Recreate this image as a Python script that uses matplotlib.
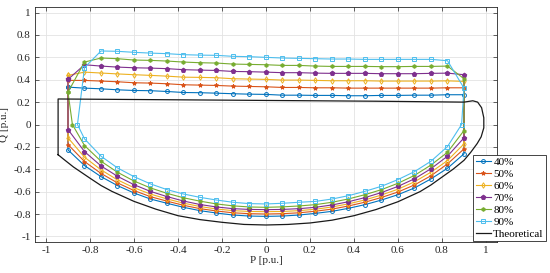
import matplotlib
matplotlib.use("Agg")
import matplotlib.pyplot as plt

plt.rcParams['font.family'] = ['Liberation Serif', 'DejaVu Serif']

# Active power grid (p.u.)
P = [-0.9, -0.825, -0.75, -0.675, -0.6, -0.525, -0.45, -0.375, -0.3, -0.225, -0.15, -0.075,
     0.0, 0.075, 0.15, 0.225, 0.3, 0.375, 0.45, 0.525, 0.6, 0.675, 0.75, 0.825, 0.9]

labels = ['40%', '50%', '60%', '70%', '80%', '90%']

# Upper (capacitive) boundary Q values
q_up_40 = [0.334, 0.325, 0.319, 0.310, 0.304, 0.302, 0.295, 0.286, 0.284, 0.280, 0.275, 0.271,
           0.269, 0.262, 0.262, 0.260, 0.260, 0.257, 0.257, 0.260, 0.260, 0.262, 0.262, 0.266, 0.266]
q_up_50 = [0.394, 0.394, 0.388, 0.382, 0.373, 0.370, 0.364, 0.355, 0.352, 0.349, 0.343, 0.340,
           0.337, 0.331, 0.331, 0.328, 0.328, 0.325, 0.325, 0.325, 0.325, 0.325, 0.325, 0.328, 0.328]
q_up_60 = [0.439, 0.468, 0.460, 0.452, 0.445, 0.439, 0.432, 0.423, 0.421, 0.418, 0.409, 0.406,
           0.403, 0.397, 0.397, 0.394, 0.391, 0.391, 0.391, 0.388, 0.388, 0.388, 0.388, 0.390, 0.385]
q_up_70 = [0.403, 0.534, 0.522, 0.513, 0.507, 0.504, 0.499, 0.490, 0.486, 0.483, 0.474, 0.472,
           0.468, 0.463, 0.463, 0.459, 0.457, 0.457, 0.457, 0.454, 0.454, 0.454, 0.457, 0.459, 0.445]
q_up_80 = [0.289, 0.558, 0.594, 0.588, 0.576, 0.573, 0.567, 0.558, 0.552, 0.549, 0.540, 0.537,
           0.534, 0.528, 0.528, 0.522, 0.519, 0.519, 0.519, 0.517, 0.517, 0.519, 0.519, 0.522, 0.409]
p_up_90 = P[1:]
q_up_90 = [0.508, 0.657, 0.654, 0.645, 0.638, 0.633, 0.624, 0.620, 0.618, 0.609, 0.606,
           0.600, 0.594, 0.591, 0.588, 0.585, 0.585, 0.582, 0.582, 0.582, 0.582, 0.582, 0.570, 0.325]

# Lower (inductive) boundary Q values
q_lo_40 = [-0.227, -0.367, -0.466, -0.546, -0.612, -0.666, -0.704, -0.740, -0.770, -0.791, -0.809, -0.818,
           -0.821, -0.818, -0.809, -0.794, -0.776, -0.749, -0.716, -0.675, -0.627, -0.567, -0.486, -0.391, -0.262]
q_lo_50 = [-0.179, -0.331, -0.437, -0.522, -0.590, -0.645, -0.685, -0.722, -0.752, -0.773, -0.789, -0.797,
           -0.800, -0.797, -0.789, -0.775, -0.756, -0.728, -0.694, -0.652, -0.603, -0.540, -0.458, -0.352, -0.218]
q_lo_60 = [-0.119, -0.292, -0.405, -0.495, -0.565, -0.622, -0.665, -0.703, -0.733, -0.755, -0.770, -0.777,
           -0.779, -0.777, -0.770, -0.757, -0.737, -0.709, -0.674, -0.630, -0.578, -0.512, -0.426, -0.322, -0.173]
q_lo_70 = [-0.045, -0.242, -0.370, -0.463, -0.538, -0.598, -0.644, -0.684, -0.715, -0.737, -0.752, -0.759,
           -0.761, -0.759, -0.752, -0.740, -0.719, -0.690, -0.653, -0.608, -0.553, -0.485, -0.395, -0.283, -0.119]
p_lo_80 = [-0.88] + P[1:]
q_lo_80 = [0.0, -0.188, -0.328, -0.427, -0.505, -0.567, -0.615, -0.655, -0.685, -0.710, -0.727, -0.737,
           -0.740, -0.736, -0.728, -0.716, -0.695, -0.665, -0.627, -0.582, -0.525, -0.455, -0.362, -0.248, -0.054]
p_lo_90 = [-0.857] + P[1:-1] + [0.889]
q_lo_90 = [0.0, -0.128, -0.283, -0.388, -0.466, -0.531, -0.582, -0.621, -0.651, -0.675, -0.695, -0.707,
           -0.710, -0.704, -0.695, -0.687, -0.666, -0.636, -0.597, -0.552, -0.492, -0.421, -0.328, -0.197, 0.0]

# Theoretical capability curve
theo_p = [-0.945, -0.945, -0.5, 0.0, 0.5, 0.9, 0.94, 0.962, 0.98, 0.99, 0.99, 0.978, 0.96, 0.93,
          0.9, 0.85, 0.8, 0.75, 0.7, 0.6, 0.5, 0.4, 0.3, 0.2, 0.1, 0.0, -0.1, -0.2, -0.3, -0.4,
          -0.5, -0.6, -0.7, -0.75, -0.8, -0.875, -0.92, -0.945]
theo_q = [-0.27, 0.228, 0.222, 0.215, 0.208, 0.200, 0.212, 0.200, 0.15, 0.06, -0.03, -0.11, -0.17, -0.25,
          -0.32, -0.40, -0.47, -0.54, -0.60, -0.69, -0.76, -0.815, -0.855, -0.88, -0.893, -0.898,
          -0.893, -0.874, -0.85, -0.815, -0.757, -0.687, -0.598, -0.545, -0.48, -0.38, -0.31, -0.27]

series = [
    (P, q_up_40, P, q_lo_40),
    (P, q_up_50, P, q_lo_50),
    (P, q_up_60, P, q_lo_60),
    (P, q_up_70, P, q_lo_70),
    (P, q_up_80, p_lo_80, q_lo_80),
    (p_up_90, q_up_90, p_lo_90, q_lo_90),
]
colors = ['#0072BD', '#D95319', '#EDB120', '#7E2F8E', '#77AC30', '#4DBEEE']
markers = ['o', '*', 'd', 'p', 'h', 's']
msizes = [2.8, 3.0, 2.8, 3.4, 2.6, 2.6]
hollow = [True, False, True, False, False, True]

fig = plt.figure(figsize=(5.5, 2.73), dpi=100)
ax = fig.add_axes([35/550, 1-242/273, (497-35)/550, (242-7)/273])

for (pu, qu, pl, ql), c, m, ms, h, lab in zip(series, colors, markers, msizes, hollow, labels):
    xs = list(pu) + list(pl)[::-1] + [pu[0]]
    ys = list(qu) + list(ql)[::-1] + [qu[0]]
    ax.plot(xs, ys, color=c, lw=0.8, marker=m, ms=ms, mew=0.7,
            mfc='none' if h else c, mec=c, label=lab)

ax.plot(theo_p, theo_q, color='#1a1a1a', lw=0.9, label='Theoretical')

ax.set_xlim(-1.05, 1.05)
ax.set_ylim(-1.05, 1.05)
xt = [-1, -0.8, -0.6, -0.4, -0.2, 0, 0.2, 0.4, 0.6, 0.8, 1]
ax.set_xticks(xt)
ax.set_xticklabels(['-1', '-0.8', '-0.6', '-0.4', '-0.2', '0', '0.2', '0.4', '0.6', '0.8', '1'])
ax.set_yticks(xt)
ax.set_yticklabels(['-1', '-0.8', '-0.6', '-0.4', '-0.2', '0', '0.2', '0.4', '0.6', '0.8', '1'])
ax.tick_params(direction='in', length=3, width=0.5, top=True, right=True,
               labelsize=8, colors='#262626', pad=3)
ax.grid(True, color='#e3e3e3', lw=0.6)
ax.set_axisbelow(True)
for s in ax.spines.values():
    s.set_color('#262626')
    s.set_linewidth(0.6)

ax.set_xlabel('P [p.u.]', fontsize=8, color='#262626')
ax.set_ylabel('Q [p.u.]', fontsize=8, color='#262626')
ax.yaxis.set_label_coords(-0.056, 0.5)
ax.xaxis.set_label_coords(0.5, -0.06)

leg = ax.legend(loc='lower right', bbox_to_anchor=(546/550, 1-241/273),
                bbox_transform=fig.transFigure, fontsize=8, frameon=True,
                fancybox=False, edgecolor='#262626', framealpha=1,
                handlelength=1.4, handletextpad=0.2, labelspacing=0.2,
                borderpad=0.2, borderaxespad=0)
leg.get_frame().set_linewidth(0.6)

fig.savefig('out.png', dpi=100)
